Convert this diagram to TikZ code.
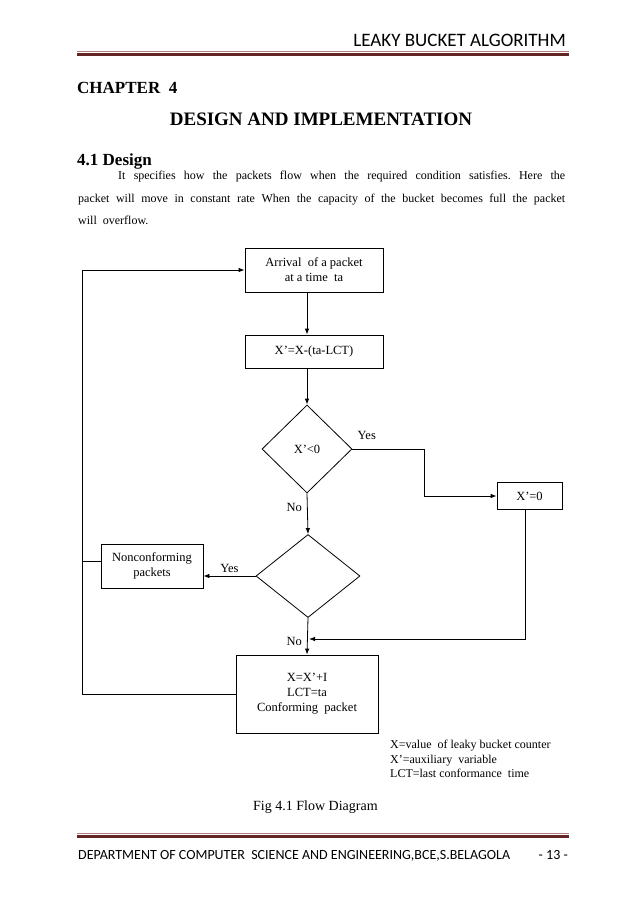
\documentclass[tikz,border=0pt]{standalone}
\usepackage{fontspec}
\setmainfont{Liberation Serif}
\newfontfamily\hdfont{Carlito}
\usepackage{xcolor}
\usepackage{tikz}
\usetikzlibrary{arrows.meta,shapes.geometric}
\definecolor{rulered}{RGB}{99,37,35}
\definecolor{rulelight}{RGB}{175,125,125}
\frenchspacing

\begin{document}
\begin{tikzpicture}[x=1pt,y=-1pt,
  box/.style={draw, line width=0.8pt, align=center, inner sep=2pt, font=\fontsize{12.5}{15}\selectfont},
  decision/.style={draw, diamond, line width=0.8pt, inner sep=0pt, font=\fontsize{12.5}{15}\selectfont},
  flow/.style={line width=0.8pt, -{Latex[length=6pt,width=4.5pt]}},
  link/.style={line width=0.8pt},
  lbl/.style={font=\fontsize{12.5}{14}\selectfont, inner sep=0pt}]
\useasboundingbox (0,0) rectangle (638,903);

% Header and footer rules
\foreach \y in {53,835} {
  \draw[rulelight, line width=1pt] (77,\y-1.5) -- (569,\y-1.5);
  \draw[rulered, line width=3pt] (77,\y+1.5) -- (569,\y+1.5);
}
\node[anchor=base east, inner sep=0pt, font=\hdfont\fontsize{19}{22}\selectfont] (header) at (566,46) {LEAKY BUCKET ALGORITHM};
\node[anchor=base west, inner sep=0pt, font=\hdfont\fontsize{14}{16}\selectfont] (dept) at (78,859) {DEPARTMENT OF COMPUTER\ \ SCIENCE AND ENGINEERING,BCE,S.BELAGOLA};
\node[anchor=base east, inner sep=0pt, font=\hdfont\fontsize{14}{16}\selectfont] (page) at (568,859) {- 13 -};

% Chapter heading and text
\node[anchor=base west, inner sep=0pt, font=\bfseries\fontsize{17}{20}\selectfont] (chap) at (77,93) {CHAPTER\ \ 4};
\node[anchor=base, inner sep=0pt, font=\bfseries\fontsize{19}{22}\selectfont] (title) at (321,125) {DESIGN AND IMPLEMENTATION};
\node[anchor=base west, inner sep=0pt, font=\bfseries\fontsize{17}{20}\selectfont] (sec) at (77,165) {4.1 Design};
\node[anchor=north west, inner sep=0pt, text width=487pt, align=justify, font=\fontsize{12}{22.6}\selectfont] (intro) at (78,171)
  {\hspace*{40pt}It specifies how the packets flow when the required condition satisfies. Here the\linebreak packet will move in constant rate When the capacity of the bucket becomes full the packet\linebreak will\ \ overflow.};

% Flow diagram
\node[box, minimum width=138pt, minimum height=44pt] (arrive) at (314,270) {Arrival\ \ of a packet\\at a time\ \ ta};
\node[box, minimum width=138pt, minimum height=33pt] (aux) at (314,351.5) {X'=X-(ta-LCT)};
\node[decision, minimum width=90pt, minimum height=88pt] (neg) at (307,449) {X'<0};
\node[box, minimum width=65pt, minimum height=27pt] (zero) at (529.5,496) {X'=0};
\node[decision, minimum width=104pt, minimum height=83pt] (over) at (308,576) {};
\node[box, minimum width=102pt, minimum height=44pt] (nonconf) at (152,566) {Nonconforming\\packets};
\node[box, minimum width=142pt, minimum height=78pt] (conf) at (307,694) {X=X'+I\\LCT=ta\\Conforming\ \ packet};
\coordinate (join) at (309,639);
\coordinate (loop) at (82,0);

\draw[flow] (arrive.south -| neg.north) -- (aux.north -| neg.north);
\draw[flow] (aux.south -| neg.north) -- (neg.north);
\draw[flow] (neg.east) -- ++(72,0) node[lbl, pos=0.2, above, yshift=9pt] {Yes} |- (zero.west);
\draw[flow] (neg.south) -- (over.north) node[lbl, pos=0.35, left, xshift=-5pt] {No};
\draw[flow] (zero.south -| 525,0) |- (join);
\draw[flow] (over.west) -- (over.west -| nonconf.east) node[lbl, midway, above, yshift=3pt] {Yes};
\draw[flow] (over.south) -- (conf.north) node[lbl, pos=0.64, left, xshift=-5pt] {No};
\draw[flow] (conf.west) -- (conf.west -| loop) |- (arrive.west);
\draw[link] ([yshift=5pt]nonconf.west) -- ([yshift=5pt]nonconf.west -| loop);

% Legend and caption
\node[anchor=north west, inner sep=0pt, align=left, font=\fontsize{12}{14.5}\selectfont] (legend) at (390,740)
  {X=value\ \ of leaky bucket counter\\X'=auxiliary\ \ variable\\LCT=last conformance\ \ time};
\node[anchor=base west, inner sep=0pt, font=\fontsize{14}{16}\selectfont] (caption) at (253,810) {Fig 4.1 Flow Diagram};

\end{tikzpicture}
\end{document}
